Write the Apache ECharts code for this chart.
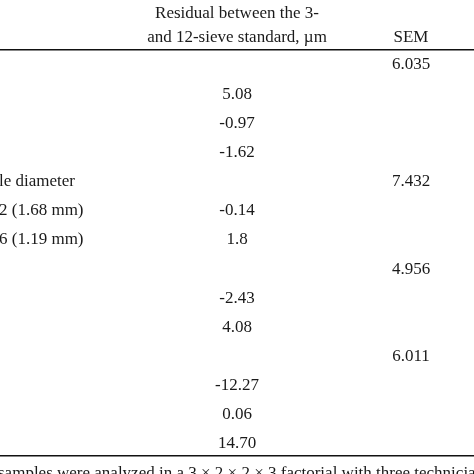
<!DOCTYPE html>
<html>
<head>
<meta charset="utf-8">
<script src="https://cdn.jsdelivr.net/npm/echarts@6/dist/echarts.min.js"></script>
<style>
  html, body { margin: 0; padding: 0; background: #fff; }
  #chart { width: 474px; height: 474px; }
</style>
</head>
<body>
<div id="chart"></div>
<script>
// table contents, one entry per row
var headerResidual = ["Residual between the 3-", "and 12-sieve standard, \u00b5m"]
var headerSem = "SEM"
var rowLabels = ["", "", "", "", "le diameter", "2 (1.68 mm)", "6 (1.19 mm)", "", "", "", "", "", ""]
var residuals = ["", "5.08", "-0.97", "-1.62", "", "-0.14", "1.8", "", "-2.43", "4.08", "", "-12.27", "0.06", "14.70"]
var semValues = ["6.035", "", "", "", "7.432", "", "", "4.956", "", "", "6.011", "", "", ""]
var footnote = "samples were analyzed in a 3 \u00d7 2 \u00d7 2 \u00d7 3 factorial with three technicians, three"
rowLabels.push("")

var font = '17px "Liberation Serif", "DejaVu Serif", serif'
var color = '#1a1a1a'
var rowY0 = 65, rowStep = 29.15
var colRes = 237, colSem = 411

var els = []
function txt(x, y, s, align) {
    els.push({
        type: 'text', x: x, y: y,
        style: { text: s, font: font, fill: color, align: align, verticalAlign: 'middle' }
    })
}
txt(colRes, 14, headerResidual[0], 'center')
txt(colRes, 38, headerResidual[1], 'center')
txt(colSem, 38, headerSem, 'center')
els.push({ type: 'rect', shape: { x: 0, y: 49, width: 474, height: 1.6 }, style: { fill: '#111' } })
for (var i = 0; i < residuals.length; i++) {
    var y = rowY0 + i * rowStep
    if (rowLabels[i]) txt(-1, y, rowLabels[i], 'left')
    if (residuals[i]) txt(colRes, y, residuals[i], 'center')
    if (semValues[i]) txt(colSem, y, semValues[i], 'center')
}
els.push({ type: 'rect', shape: { x: 0, y: 455, width: 474, height: 1.6 }, style: { fill: '#111' } })
txt(-2, 474, footnote, 'left')

var myChart = echarts.init(document.getElementById('chart'))
myChart.setOption({ animation: false, graphic: { elements: els } })
</script>
</body>
</html>
